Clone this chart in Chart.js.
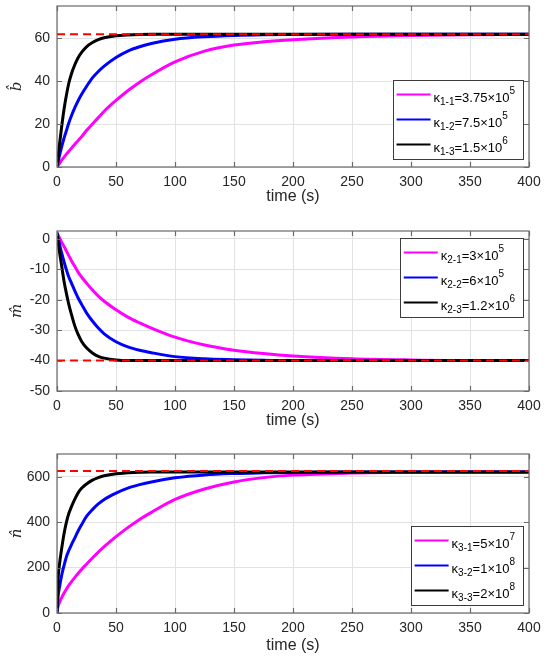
<!DOCTYPE html>
<html><head><meta charset="utf-8">
<script src="https://cdn.jsdelivr.net/npm/chart.js@4.4.0/dist/chart.umd.min.js"></script>
<style>
html,body{margin:0;padding:0;background:#fff;}
#wrap{position:relative;width:550px;height:658px;background:#fff;}
canvas{position:absolute;left:0;}
</style></head><body>
<div id="wrap">
<canvas id="c1" width="550" height="215" style="top:0px;width:550px;height:215px"></canvas>
<canvas id="c2" width="550" height="225" style="top:215px;width:550px;height:225px"></canvas>
<canvas id="c3" width="550" height="218" style="top:440px;width:550px;height:218px"></canvas>
</div>
<script>
// ---- data ----
const time = [0,1,2,4,6,8,10,12,15,18,21,25,30,35,40,50,60,70,80,100,125,150,175,200,250,300,350,400];
const xTickValues = [0,50,100,150,200,250,300,350,400];

// panel 1: b-hat
const bMagenta = [0,0.8,1.6,3.2,4.6,6,7.3,8.6,10.5,12.4,14.2,17,20,23,26,31,35.5,39.5,43,49,54,56.8,58.3,59.3,60.6,61.3,61.6,61.7];
const bBlue    = [0,2.5,5,9.5,13.5,17,20.5,23.5,27.5,31,34,37.5,41.5,44.5,47,51,54,56,57.5,59.5,60.7,61.3,61.6,61.7,61.8,61.8,61.8,61.8];
const bBlack   = [0,5,10,19,27,33.5,39,43,47.5,51,53.5,56,58,59.3,60.2,61.1,61.5,61.7,61.8,61.8,61.8,61.8,61.8,61.8,61.8,61.8,61.8,61.8];
const bRef = 61.8;
const bYTicks = [0,20,40,60];

// panel 2: m-hat
const mMagenta = [2,1.2,0.4,-1.1,-2.5,-4,-5.5,-7,-9,-11,-12.6,-14.5,-16.8,-18.8,-20.5,-23.3,-25.7,-27.6,-29.3,-32.3,-34.9,-36.6,-37.7,-38.5,-39.4,-39.8,-40,-40];
const mBlue    = [2,0.2,-1.5,-4.7,-7.6,-10.2,-12.5,-14.3,-17,-19.5,-21.6,-24.3,-27,-29.3,-31.2,-33.8,-35.5,-36.6,-37.4,-38.7,-39.4,-39.7,-39.9,-40,-40,-40,-40,-40];
const mBlack   = [2,-1,-4,-9,-14,-18,-21.5,-24.5,-28.5,-31.5,-33.8,-35.8,-37.5,-38.6,-39.2,-39.8,-40,-40,-40,-40,-40,-40,-40,-40,-40,-40,-40,-40];
const mRef = -40;
const mYTicks = [-50,-40,-30,-20,-10,0];

// panel 3: n-hat
const nMagenta = [0,30,45,68,88,106,122,136,156,175,193,215,242,268,292,336,376,412,443,500,546,577,596,607,616,619.5,620.5,621];
const nBlue    = [0,75,110,167,210,248,275,298,330,362,390,425,455,480,500,528,550,565,577,595,608,614,617,619,620.5,621,621,621];
const nBlack   = [0,155,210,285,350,400,438,465,500,530,550,568,585,596,604,613,617,619.5,620.5,621,621,621,621,621,621,621,621,621];
const nRef = 625;
const nYTicks = [0,200,400,600];

// legend texts
const leg1Sub = ['1-1','1-2','1-3'], leg1Mant = ['3.75','7.5','1.5'], leg1Exp = ['5','5','6'];
const leg2Sub = ['2-1','2-2','2-3'], leg2Mant = ['3','6','1.2'],     leg2Exp = ['5','5','6'];
const leg3Sub = ['3-1','3-2','3-3'], leg3Mant = ['5','1','2'],       leg3Exp = ['7','8','8'];

const xTitle = 'time (s)';
const yTitles = ['b\u0302','m\u0302','n\u0302'];

// ---- styling ----
const COLORS = ['#ff00ff','#0000ff','#000000'];
const SANS = '"Liberation Sans", Arial, Helvetica, sans-serif';

const framePlugin = {
  id: 'frame',
  afterDraw(chart, args, opts) {
    const {ctx, chartArea: a, scales} = chart;
    ctx.save();
    ctx.strokeStyle = '#6a6a6a';
    ctx.lineWidth = 1.2;
    ctx.strokeRect(a.left, a.top, a.right - a.left, a.bottom - a.top);
    ctx.beginPath();
    const tl = 5;
    scales.x.ticks.forEach(t => {
      const px = Math.round(scales.x.getPixelForValue(t.value)) + 0.5;
      ctx.moveTo(px, a.bottom); ctx.lineTo(px, a.bottom - tl);
      ctx.moveTo(px, a.top); ctx.lineTo(px, a.top + tl);
    });
    scales.y.ticks.forEach(t => {
      const py = Math.round(scales.y.getPixelForValue(t.value)) + 0.5;
      ctx.moveTo(a.left, py); ctx.lineTo(a.left + tl, py);
      ctx.moveTo(a.right, py); ctx.lineTo(a.right - tl, py);
    });
    ctx.stroke();

    const L = opts.legend;
    if (L) {
      const fMain = '13px ' + SANS, fSmall = '10px ' + SANS;
      const widths = L.sub.map((s, i) => {
        ctx.font = fMain; const w1 = ctx.measureText('\u03BA').width;
        ctx.font = fSmall; const w2 = ctx.measureText(s).width;
        ctx.font = fMain; const w3 = ctx.measureText('=' + L.mant[i] + '\u00D710').width;
        ctx.font = fSmall; const w4 = ctx.measureText(L.exp[i]).width;
        return {w1, w2, w3, w4, tot: w1 + w2 + w3 + w4};
      });
      const maxW = Math.max(...widths.map(w => w.tot));
      const bw = 4 + 34 + 3 + maxW + 8;
      const bh = 79;
      const right = a.right - 6;
      const left = right - bw;
      const top = L.anchor === 'top' ? a.top + 7 : a.bottom - 8 - bh;
      ctx.fillStyle = '#ffffff';
      ctx.fillRect(left, top, bw, bh);
      ctx.strokeStyle = '#3c3c3c';
      ctx.lineWidth = 1;
      ctx.strokeRect(Math.round(left) + 0.5, Math.round(top) + 0.5, Math.round(bw), Math.round(bh));
      L.sub.forEach((s, i) => {
        const y = top + 14.5 + 25 * i;
        ctx.strokeStyle = COLORS[i];
        ctx.lineWidth = 2;
        ctx.beginPath();
        ctx.moveTo(left + 4, y); ctx.lineTo(left + 38, y);
        ctx.stroke();
        const w = widths[i];
        let x = left + 41;
        ctx.fillStyle = '#000';
        ctx.textBaseline = 'alphabetic';
        ctx.textAlign = 'left';
        ctx.font = fMain; ctx.fillText('\u03BA', x, y + 7); x += w.w1;
        ctx.font = fSmall; ctx.fillText(s, x, y + 10); x += w.w2;
        ctx.font = fMain; ctx.fillText('=' + L.mant[i] + '\u00D710', x, y + 7); x += w.w3;
        ctx.font = fSmall; ctx.fillText(L.exp[i], x, y - 1);
      });
    }
    ctx.restore();
  }
};

function makeChart(id, cfg) {
  const series = [cfg.magenta, cfg.blue, cfg.black];
  const datasets = series.map((vals, i) => ({
    label: 'k' + cfg.legend.sub[i],
    data: time.map((t, j) => ({x: t, y: vals[j]})),
    borderColor: COLORS[i],
    borderWidth: 3,
    pointRadius: 0,
    cubicInterpolationMode: 'monotone',
    fill: false,
    order: 3 - i
  }));
  datasets.push({
    label: 'ref',
    data: [{x: 0, y: cfg.ref}, {x: 400, y: cfg.ref}],
    borderColor: '#ff0000',
    borderWidth: 2,
    borderDash: [8, 5],
    pointRadius: 0,
    fill: false,
    order: 0
  });
  const canvas = document.getElementById(id);
  const H = canvas.height;
  return new Chart(canvas, {
    type: 'line',
    data: {datasets},
    plugins: [framePlugin],
    options: {
      responsive: false,
      animation: false,
      devicePixelRatio: 1,
      layout: {padding: {left: 0, right: 21, top: cfg.top, bottom: 0}},
      plugins: {
        legend: {display: false},
        tooltip: {enabled: false},
        frame: {legend: cfg.legend}
      },
      scales: {
        x: {
          type: 'linear',
          min: 0, max: 400,
          afterBuildTicks: s => { s.ticks = xTickValues.map(v => ({value: v})); },
          ticks: {font: {family: SANS, size: 14}, color: '#262626', padding: 7, maxRotation: 0, autoSkip: false},
          grid: {color: '#e2e2e2', lineWidth: 1, drawTicks: false},
          border: {display: false},
          title: {display: true, text: xTitle, font: {family: SANS, size: 16}, color: '#262626',
                  padding: {top: 0, bottom: cfg.xTitlePad}},
          afterFit: s => { s.height = H - cfg.top - cfg.plotH; s.paddingLeft = 0; s.paddingRight = 0; }
        },
        y: {
          type: 'linear',
          min: cfg.ymin, max: cfg.ymax,
          afterBuildTicks: s => { s.ticks = cfg.yTicks.map(v => ({value: v})); },
          ticks: {font: {family: SANS, size: 14}, color: '#262626', padding: 7, autoSkip: false},
          grid: {color: '#e2e2e2', lineWidth: 1, drawTicks: false},
          border: {display: false},
          title: {display: true, text: cfg.yTitle, font: {family: '"DejaVu Serif", "Liberation Serif", serif', size: 15, style: 'italic'},
                  color: '#262626', padding: {top: 8, bottom: 0}},
          afterFit: s => { s.width = 57; s.paddingTop = 0; s.paddingBottom = 0; }
        }
      }
    }
  });
}

makeChart('c1', {magenta: bMagenta, blue: bBlue, black: bBlack, ref: bRef, yTicks: bYTicks,
  ymin: 0, ymax: 75, top: 6, plotH: 161, xTitlePad: 8.6, yTitle: yTitles[0],
  legend: {sub: leg1Sub, mant: leg1Mant, exp: leg1Exp, anchor: 'bottom'}});
makeChart('c2', {magenta: mMagenta, blue: mBlue, black: mBlack, ref: mRef, yTicks: mYTicks,
  ymin: -50, ymax: 2.6, top: 16, plotH: 160, xTitlePad: 9.6, yTitle: yTitles[1],
  legend: {sub: leg2Sub, mant: leg2Mant, exp: leg2Exp, anchor: 'top'}});
makeChart('c3', {magenta: nMagenta, blue: nBlue, black: nBlack, ref: nRef, yTicks: nYTicks,
  ymin: 0, ymax: 700, top: 14, plotH: 159, xTitlePad: 2.6, yTitle: yTitles[2],
  legend: {sub: leg3Sub, mant: leg3Mant, exp: leg3Exp, anchor: 'bottom'}});
</script>
</body></html>
